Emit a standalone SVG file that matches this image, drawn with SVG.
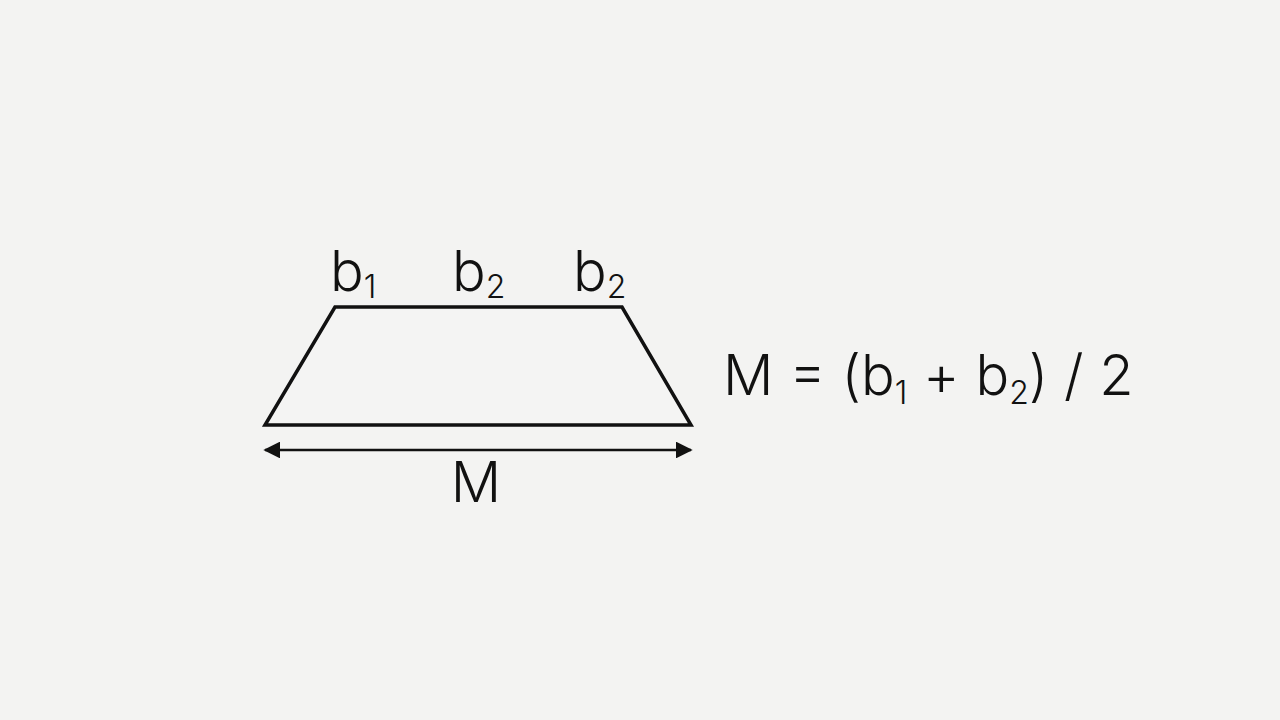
<svg xmlns="http://www.w3.org/2000/svg" width="1280" height="720" viewBox="0 0 1280 720">
<style>
.t{font-family:"Inter","Liberation Sans",sans-serif;font-weight:300;fill:#111;}
.big{font-size:56px;}
.sub{font-size:32px;}
</style>
<defs>
<marker id="ah" viewBox="0 0 10 10" refX="9" refY="5" markerWidth="6.5" markerHeight="6.5" orient="auto-start-reverse" markerUnits="strokeWidth">
<path d="M0,0 L10,5 L0,10 z" fill="#111"/>
</marker>
</defs>
<rect width="1280" height="720" fill="#f3f3f2"/>
<g id="trapezoid">
<polygon points="335,307 622,307 691,425 265,425" fill="#f4f4f3" stroke="#111" stroke-width="3.5" stroke-linejoin="miter"/>
</g>
<g id="connectors">
<line x1="265" y1="450" x2="691" y2="450" stroke="#111" stroke-width="2.6" marker-start="url(#ah)" marker-end="url(#ah)"/>
</g>
<g id="label-b1"><text class="t big" x="330" y="291">b<tspan class="sub" dy="7">1</tspan></text></g>
<g id="label-b2a"><text class="t big" x="452" y="291">b<tspan class="sub" dy="7">2</tspan></text></g>
<g id="label-b2b"><text class="t big" x="573" y="291">b<tspan class="sub" dy="7">2</tspan></text></g>
<g id="label-M"><text class="t big" x="476" y="502" text-anchor="middle">M</text></g>
<g id="formula"><text class="t big" x="723" y="395">M = (b<tspan class="sub" dy="9">1</tspan><tspan dy="-9"> + b</tspan><tspan class="sub" dy="9">2</tspan><tspan dy="-9">) / 2</tspan></text></g>
</svg>
